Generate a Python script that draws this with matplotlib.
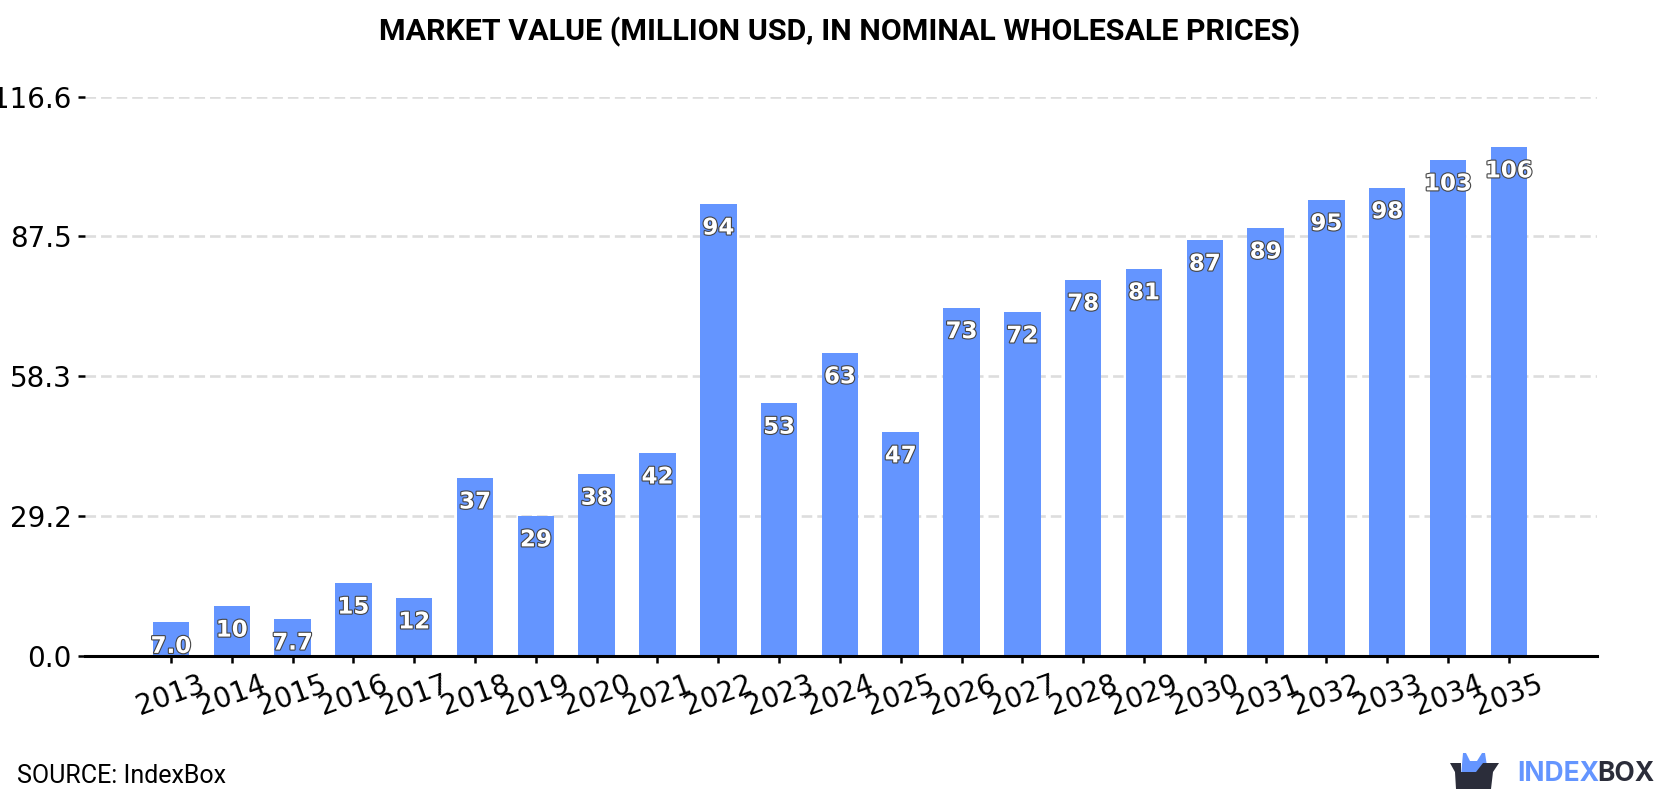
import matplotlib
matplotlib.use("Agg")
import matplotlib.pyplot as plt
import matplotlib.patheffects as pe
from matplotlib.patches import Polygon

years = [str(y) for y in range(2013, 2036)]
values = [7.0, 10.4, 7.7, 15.2, 12.1, 37.1, 29.2, 37.9, 42.3, 94.2, 52.7, 63.2,
          46.7, 72.6, 71.7, 78.4, 80.7, 86.7, 89.2, 95.1, 97.6, 103.4, 106.1]
y_ticks = [0.0, 29.2, 58.3, 87.5, 116.6]
title = "MARKET VALUE (MILLION USD, IN NOMINAL WHOLESALE PRICES)"
source = "SOURCE: IndexBox"
BAR = "#6495ff"
DARK = "#2b2d3a"


def fmt(v):
    return f"{v:.1f}" if v < 10 else f"{v:.0f}"


W, H = 1680, 800
fig = plt.figure(figsize=(W / 100, H / 100), dpi=100, facecolor="white")
ax = fig.add_axes([85 / W, (H - 656) / H, (1597 - 85) / W, 559.5 / H])

positions = list(range(len(years)))
ax.bar(positions, values, width=0.6, color=BAR, zorder=3)
ax.set_xlim(-1.414, 23.45)
ax.set_ylim(0, 116.6)

ax.set_yticks(y_ticks, [f"{t:.1f}" for t in y_ticks])
ax.set_xticks(positions, years)
ax.tick_params(axis="y", length=5.2, width=1.8, pad=4.3, labelsize=20, color="black")
ax.tick_params(axis="x", length=5, width=1.8, pad=5, labelsize=20, color="black")
for lab in ax.get_xticklabels():
    lab.set_rotation(20)
    lab.set_ha("center")

ax.grid(axis="y", color="#dddddd", linewidth=1.9, linestyle=(0, (4, 1.9)), zorder=1)
ax.set_axisbelow(True)
for side in ("top", "left", "right"):
    ax.spines[side].set_visible(False)
ax.spines["bottom"].set_linewidth(2.2)
ax.spines["bottom"].set_zorder(5)

# Value captions sit just inside the top of each bar
outline = [pe.withStroke(linewidth=1.6, foreground="#444444")]
for x, v in zip(positions, values):
    ax.annotate(fmt(v), (x, v), xytext=(0, -24), textcoords="offset pixels",
                ha="center", va="center", color="white", fontsize=16.5,
                fontweight="bold", family="DejaVu Sans", path_effects=outline,
                zorder=6, annotation_clip=False)

fig.text(0.5, 1 - 32 / H, title, ha="center", va="center", fontsize=21.9,
         fontweight="bold", family="Roboto", color="black")
fig.text(17 / W, 1 - 776 / H, source, ha="left", va="center", fontsize=18,
         family="Roboto", color="black")

# Logo: an open dark box with a blue crown rising out of it
lax = fig.add_axes([0, 0, 1, 1], facecolor="none")
lax.set_xlim(0, W)
lax.set_ylim(H, 0)
lax.axis("off")
lax.add_patch(Polygon([(1461, 776), (1463, 753), (1466, 753), (1470, 761), (1477, 761),
                      (1482, 753), (1485, 753), (1487, 766), (1475, 773)],
                      closed=True, color=BAR, lw=0))
lax.add_patch(Polygon([(1450, 763), (1461, 763), (1461, 772), (1476, 772),
                      (1483, 763), (1499, 763), (1493, 772), (1491, 789),
                      (1456, 789), (1455, 772)],
                      closed=True, color=DARK, lw=0))
lax.text(1517, 774, "INDEX", ha="left", va="center", fontsize=19, fontweight="bold",
         family="Inter", color=BAR)
lax.text(1597, 774, "BOX", ha="left", va="center", fontsize=19, fontweight="bold",
         family="Inter", color=DARK)

fig.savefig("out.png", dpi=100, facecolor="white")
